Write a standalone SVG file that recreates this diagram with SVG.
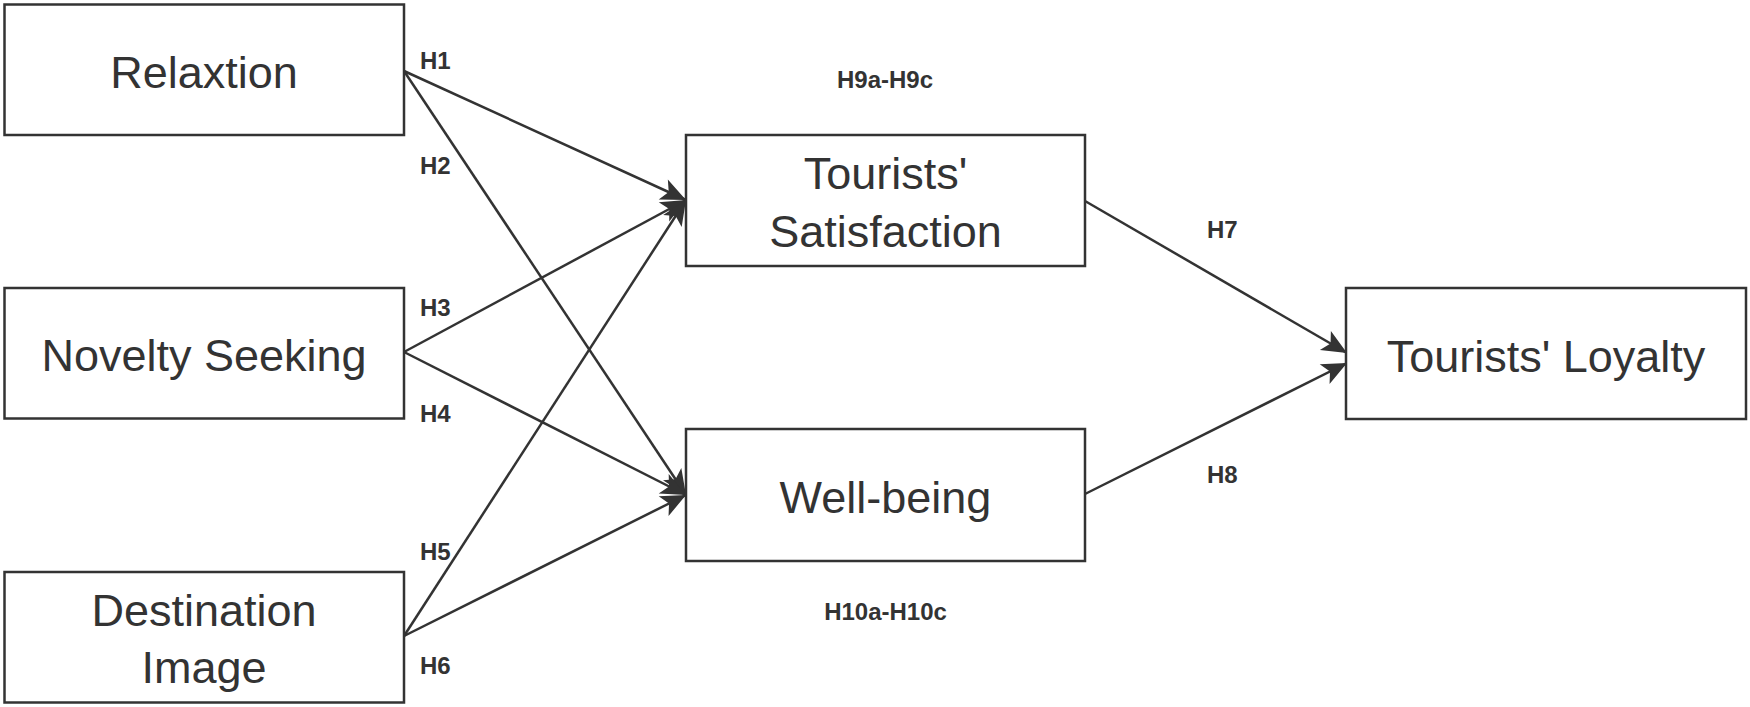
<svg xmlns="http://www.w3.org/2000/svg" width="1750" height="707" viewBox="0 0 1750 707">
<style>
.box{fill:#fff;stroke:#333;stroke-width:2.5}
.t{font-family:"Liberation Sans",Arial,sans-serif;font-size:45px;fill:#333;text-anchor:middle}
.h{font-family:"Liberation Sans",Arial,sans-serif;font-size:24px;font-weight:bold;fill:#333}
.c{fill:none;stroke:#333;stroke-width:2.5}
</style>
<defs>
<marker id="arr" markerUnits="userSpaceOnUse" markerWidth="30" markerHeight="26" refX="26" refY="13" orient="auto" viewBox="0 0 30 26">
<path d="M26,13 L1,2 L7,13 L1,24 Z" fill="#333"/>
</marker>
</defs>
<rect width="1750" height="707" fill="#fff"/>
<g id="connectors">
<line class="c" x1="404" y1="71" x2="686" y2="200" marker-end="url(#arr)"/>
<line class="c" x1="404" y1="71" x2="686" y2="495" marker-end="url(#arr)"/>
<line class="c" x1="404" y1="352" x2="686" y2="200" marker-end="url(#arr)"/>
<line class="c" x1="404" y1="352" x2="686" y2="495" marker-end="url(#arr)"/>
<line class="c" x1="404" y1="636" x2="686" y2="200" marker-end="url(#arr)"/>
<line class="c" x1="404" y1="636" x2="686" y2="495" marker-end="url(#arr)"/>
<line class="c" x1="1085" y1="201" x2="1347" y2="353" marker-end="url(#arr)"/>
<line class="c" x1="1085" y1="494" x2="1347" y2="363" marker-end="url(#arr)"/>
</g>
<g id="labels">
<text class="h" x="420" y="69">H1</text>
<text class="h" x="420" y="174">H2</text>
<text class="h" x="420" y="316">H3</text>
<text class="h" x="420" y="422">H4</text>
<text class="h" x="420" y="560">H5</text>
<text class="h" x="420" y="674">H6</text>
<text class="h" x="1207" y="238">H7</text>
<text class="h" x="1207" y="483">H8</text>
<text class="h" x="885" y="88" text-anchor="middle">H9a-H9c</text>
<text class="h" x="885.5" y="620" text-anchor="middle">H10a-H10c</text>
</g>
<g id="relaxtion">
<rect class="box" x="4.5" y="4.5" width="399.5" height="130.5"/>
<text class="t" x="204" y="88">Relaxtion</text>
</g>
<g id="novelty">
<rect class="box" x="4.5" y="288" width="399.5" height="130.5"/>
<text class="t" x="204" y="371">Novelty Seeking</text>
</g>
<g id="destination">
<rect class="box" x="4.5" y="572" width="399.5" height="130.5"/>
<text class="t" x="204" y="626">Destination</text>
<text class="t" x="204" y="683">Image</text>
</g>
<g id="satisfaction">
<rect class="box" x="686" y="135" width="399" height="131"/>
<text class="t" x="885.5" y="189">Tourists'</text>
<text class="t" x="885.5" y="247">Satisfaction</text>
</g>
<g id="wellbeing">
<rect class="box" x="686" y="429" width="399" height="132"/>
<text class="t" x="885.5" y="513">Well-being</text>
</g>
<g id="loyalty">
<rect class="box" x="1346" y="288" width="400" height="131"/>
<text class="t" x="1546" y="372">Tourists' Loyalty</text>
</g>
</svg>
